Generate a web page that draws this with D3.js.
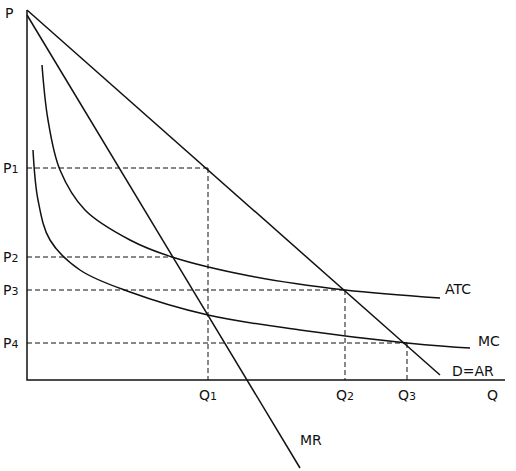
<!DOCTYPE html>
<html><head><meta charset="utf-8">
<script src="https://cdn.jsdelivr.net/npm/d3@7"></script>
<style>body{margin:0;background:#fff}text{font-family:"DejaVu Sans",sans-serif;font-size:14px;fill:#111}</style>
</head><body><svg id="c" width="516" height="471"></svg>
<script>
// values in chart units (q, p)
const demand = [[0,370],[413,5]];
const mr = [[0,365],[273,-88]];
const atc = [[15,315],[21,260],[33,210],[58,170],[103,140],[145,123],[223,104],[318,90],[413,82]];
const mc = [[6,230],[11,180],[23,140],[53,110],[103,88],[181,65],[273,50],[380,37],[443,32]];
const priceLevels = [{label:"P1",p:212,q:181},{label:"P2",p:123,q:146},{label:"P3",p:90,q:318},{label:"P4",p:37,q:380}];
const qLevels = [{label:"Q1",q:181,p:212},{label:"Q2",q:318,p:90},{label:"Q3",q:380,p:37}];

const svg = d3.select("#c");
const x = d3.scaleLinear().domain([0,478]).range([27,505]);
const y = d3.scaleLinear().domain([0,370]).range([380,10]);
const line = d3.line().x(d=>x(d[0])).y(d=>y(d[1]));
const curve = d3.line().x(d=>x(d[0])).y(d=>y(d[1])).curve(d3.curveCatmullRom.alpha(0.5));

svg.append("path").attr("d",line([[0,370],[0,0],[478,0]])).attr("fill","none").attr("stroke","#111").attr("stroke-width",1.5);
priceLevels.forEach(d=>{
  svg.append("line").attr("x1",x(0)).attr("x2",x(d.q)).attr("y1",y(d.p)).attr("y2",y(d.p)).attr("stroke","#111").attr("stroke-dasharray","5,3");
  const t=svg.append("text").attr("x",3).attr("y",y(d.p)+5).text("P");
  t.append("tspan").attr("font-size","11px").text(d.label.slice(1));
});
qLevels.forEach(d=>{
  svg.append("line").attr("x1",x(d.q)).attr("x2",x(d.q)).attr("y1",y(d.p)).attr("y2",y(0)).attr("stroke","#111").attr("stroke-dasharray","5,3");
  const t=svg.append("text").attr("x",x(d.q)-9).attr("y",400).text("Q");
  t.append("tspan").attr("font-size","11px").text(d.label.slice(1));
});
[demand,mr].forEach(a=>svg.append("path").attr("d",line(a)).attr("fill","none").attr("stroke","#111").attr("stroke-width",1.5));
[atc,mc].forEach(a=>svg.append("path").attr("d",curve(a)).attr("fill","none").attr("stroke","#111").attr("stroke-width",1.5));
svg.append("text").attr("x",5).attr("y",18).text("P");
svg.append("text").attr("x",487).attr("y",400).text("Q");
svg.append("text").attr("x",300).attr("y",445).text("MR");
svg.append("text").attr("x",445).attr("y",294).text("ATC");
svg.append("text").attr("x",478).attr("y",346).text("MC");
svg.append("text").attr("x",452).attr("y",376).text("D=AR");
</script></body></html>
